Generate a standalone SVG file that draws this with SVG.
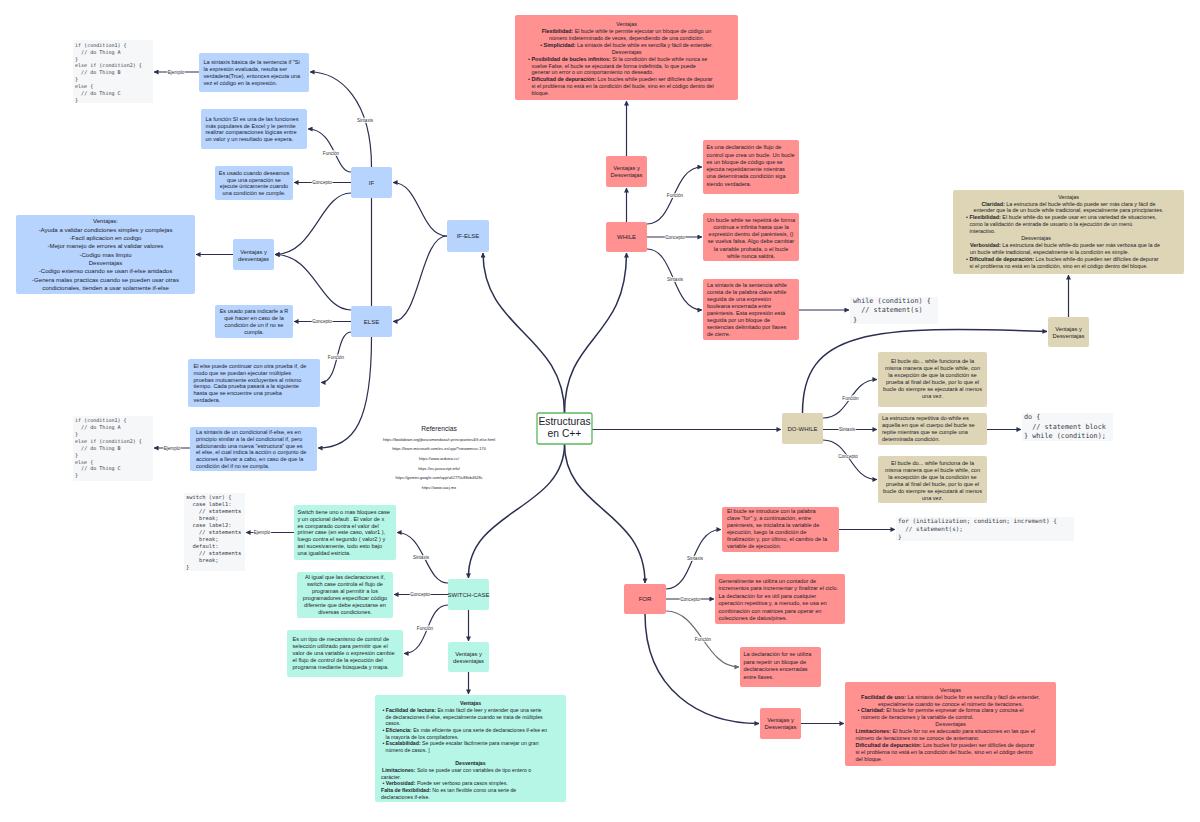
<svg xmlns="http://www.w3.org/2000/svg" width="1200" height="822" viewBox="0 0 1200 822">
<defs>
<marker id="a" viewBox="0 0 6 6" refX="5.5" refY="3" markerWidth="5" markerHeight="5" markerUnits="userSpaceOnUse" orient="auto"><path d="M0,0 L6,3 L0,6 z" fill="#2b3050"/></marker>
<marker id="ag" viewBox="0 0 6 6" refX="5.5" refY="3" markerWidth="5" markerHeight="5" markerUnits="userSpaceOnUse" orient="auto"><path d="M0,0 L6,3 L0,6 z" fill="#6b6b6b"/></marker>
<style>
text{font-family:"Liberation Sans",Arial,sans-serif;fill:#1c1c2c}
.e{fill:none;stroke:#2b3050;stroke-width:1.2;marker-end:url(#a)}
.E{fill:none;stroke:#2b3050;stroke-width:1.5;marker-end:url(#a)}
.eg{fill:none;stroke:#6b6b6b;stroke-width:1.2;marker-end:url(#ag)}
.l{font-size:4.6px;text-anchor:middle;dominant-baseline:central;stroke:#fff;stroke-width:1.4px;paint-order:stroke;fill:#333}
.b{fill:#b7d4ff}
.r{fill:#ff9191}
.m{fill:#b5f6e7}
.y{fill:#ddd5b5}
.k{fill:#f5f7f8}
.n{font-size:6px;text-anchor:middle}
.s{font-size:5.6px}
.mid{text-anchor:middle}
.code{font-family:"DejaVu Sans Mono","Liberation Mono",monospace;fill:#3a3a4a}
.bo{font-weight:bold}
</style>
</defs>
<rect width="1200" height="822" fill="#ffffff"/>

<g id="connectors">
<path class="E" d="M564.5,413 C564.5,335 483,330 483,253"/>
<path class="E" d="M564.5,413 C564.5,335 626.5,340 626.5,253"/>
<path class="e" d="M592,429.5 L781,429.5"/>
<path class="E" d="M564.5,444 C564.5,510 467,510 468.5,578"/>
<path class="E" d="M564.5,444 C564.5,510 645,510 645,583"/>
<path class="e" d="M447,236 C420,236 420,182.5 393,182.5"/>
<path class="e" d="M447,236 C420,236 420,321.5 393,321.5"/>
<path class="e" d="M371.5,167 C371.5,100 340,72 310,72"/>
<path class="e" d="M351,172 C335,172 335,129 308,129"/>
<path class="e" d="M351,182.5 L294,182.5"/>
<path class="e" d="M351,193 C320,193 315,254.5 275,254.5"/>
<path class="e" d="M351,310 C320,310 315,254.5 275,254.5"/>
<path class="e" d="M233,254.5 L196,254.5"/>
<path class="e" d="M351,321.5 L294,321.5"/>
<path class="e" d="M351,332 C335,332 340,382.5 321,382.5"/>
<path class="e" d="M371.5,198 L371.5,337 C371.5,420 355,448 318,448"/>
<path class="e" d="M199,72 L154,72"/>
<path class="e" d="M190,448 L154,448"/>
<path class="e" d="M448,583 C425,583 425,532.5 397,532.5"/>
<path class="e" d="M294,532.5 L246,532.5"/>
<path class="e" d="M448,594.5 L394,594.5"/>
<path class="e" d="M448,605 C425,605 430,653.5 404,653.5"/>
<path class="e" d="M468.5,610 L468.5,641"/>
<path class="e" d="M468.5,672 L468.5,694"/>
<path class="e" d="M626.5,222 L626.5,188"/>
<path class="e" d="M626.5,156 L626.5,101"/>
<path class="e" d="M647,224 C675,224 672,167 702,167"/>
<path class="e" d="M647,237 L702,237"/>
<path class="e" d="M647,249 C675,249 672,310 702,310"/>
<path class="e" d="M799,310 L849,310"/>
<path class="E" d="M802.5,413 C802.5,330 870,325 1047,331.5"/>
<path class="e" d="M1068.5,317 L1068.5,275"/>
<path class="e" d="M823,418 C850,418 850,379.5 877,379.5"/>
<path class="e" d="M823,429.5 L877,429.5"/>
<path class="e" d="M987,429.5 L1021,429.5"/>
<path class="e" d="M823,440 C850,440 850,479.5 877,479.5"/>
<path class="e" d="M666,589 C695,589 690,529.5 721,529.5"/>
<path class="e" d="M839,529.5 L895,529.5"/>
<path class="e" d="M666,599 L714,599"/>
<path class="eg" d="M666,611 C700,611 705,667 739,667"/>
<path class="E" d="M645,614 C645,690 700,723.5 759,723.5"/>
<path class="e" d="M801,723.5 L844,723.5"/>
<text class="l" x="365" y="120">Sintaxis</text>
<text class="l" x="331" y="153">Función</text>
<text class="l" x="322" y="182.5">Concepto</text>
<text class="l" x="322" y="321.5">Concepto</text>
<text class="l" x="336" y="357">Función</text>
<text class="l" x="176" y="72">Ejemplo</text>
<text class="l" x="172" y="448">Ejemplo</text>
<text class="l" x="421" y="557">Sintaxis</text>
<text class="l" x="262" y="532.5">Ejemplo</text>
<text class="l" x="420" y="594.5">Concepto</text>
<text class="l" x="425" y="628">Función</text>
<text class="l" x="675" y="195.5">Función</text>
<text class="l" x="675" y="237">Concepto</text>
<text class="l" x="675" y="279">Sintaxis</text>
<text class="l" x="850.5" y="398">Función</text>
<text class="l" x="847" y="429">Sintaxis</text>
<text class="l" x="848" y="456">Concepto</text>
<text class="l" x="695" y="558">Sintaxis</text>
<text class="l" x="690" y="599">Concepto</text>
<text class="l" x="703" y="639">Función</text>
</g>

<g id="n-central">
<rect x="537" y="413" width="55" height="31" rx="2" fill="#ffffff" stroke="#5cb85c" stroke-width="1.3"/>
<text class="mid" font-size="10.3" fill="#333"><tspan x="564.5" y="425.3">Estructuras</tspan><tspan x="564.5" y="437">en C++</tspan></text>
</g>

<g id="referencias">
<text class="mid" x="439" y="431" font-size="6.7">Referencias</text>
<text class="mid" font-size="3.9"><tspan x="439" y="440.5">https://bookdown.org/jboscomendoza/r-principiantes4/if-else.html</tspan><tspan x="439" y="450.3">https://learn.microsoft.com/es-es/cpp/?view=msvc-170</tspan><tspan x="439" y="459.9">https://www.arduino.cc/</tspan><tspan x="439" y="469.5">https://es.javascript.info/</tspan><tspan x="439" y="479.1">https://gemini.google.com/app/a62770c88eb4628c</tspan><tspan x="439" y="488.7">https://www.uacj.mx</tspan></text>
</g>

<g id="n-ifelse"><rect class="b" x="447" y="220" width="42" height="32" rx="2"/><text class="n" x="468" y="238.1">IF-ELSE</text></g>
<g id="n-if"><rect class="b" x="351" y="167" width="41" height="31" rx="2"/><text class="n" x="371.5" y="184.6">IF</text></g>
<g id="n-else"><rect class="b" x="351" y="306" width="41" height="31" rx="2"/><text class="n" x="371.5" y="323.6">ELSE</text></g>

<g id="n-if-sintaxis"><rect class="b" x="199" y="53" width="110" height="39" rx="2"/>
<text class="s"><tspan x="203.5" y="64.4">La sintaxis básica de la sentencia if "Si</tspan><tspan x="203.5" y="71.1">la expresión evaluada, resulta ser</tspan><tspan x="203.5" y="77.8">verdadera(True), entonces ejecuta una</tspan><tspan x="203.5" y="84.5">vez el código en la expresión.</tspan></text></g>

<g id="n-if-funcion"><rect class="b" x="201" y="109" width="106" height="40" rx="2"/>
<text class="s"><tspan x="205.5" y="120.9">La función SI es una de las funciones</tspan><tspan x="205.5" y="127.6">más populares de Excel y le permite</tspan><tspan x="205.5" y="134.3">realizar comparaciones lógicas entre</tspan><tspan x="205.5" y="141">un valor y un resultado que espera.</tspan></text></g>

<g id="n-if-concepto"><rect class="b" x="215" y="166" width="78" height="34" rx="2"/>
<text class="s mid"><tspan x="254" y="174.9">Es usado cuando deseamos</tspan><tspan x="254" y="181.6">que una operación se</tspan><tspan x="254" y="188.3">ejecute únicamente cuando</tspan><tspan x="254" y="195">una condición se cumple.</tspan></text></g>

<g id="n-if-code"><rect class="k" x="73" y="40" width="80" height="63"/>
<text class="code" font-size="5.05"><tspan x="75" y="46.8">if (condition1) {</tspan><tspan x="81.1" y="53.65">// do Thing A</tspan><tspan x="75" y="60.5">}</tspan><tspan x="75" y="67.35">else if (condition2) {</tspan><tspan x="81.1" y="74.2">// do Thing B</tspan><tspan x="75" y="81.05">}</tspan><tspan x="75" y="87.9">else {</tspan><tspan x="81.1" y="94.75">// do Thing C</tspan><tspan x="75" y="101.6">}</tspan></text></g>

<g id="n-ifelse-ventajas"><rect class="b" x="16" y="215" width="179" height="79" rx="2"/>
<text class="mid" font-size="6.1"><tspan x="105.5" y="223.4">Ventajas:</tspan><tspan x="105.5" y="231.7">-Ayuda a validar condiciones simples y complejas</tspan><tspan x="105.5" y="240">-Facil aplicacion en codigo</tspan><tspan x="105.5" y="248.3">-Mejor manejo de errores al validar valores</tspan><tspan x="105.5" y="256.6">-Codigo mas limpio</tspan><tspan x="105.5" y="264.9">Desventajas</tspan><tspan x="105.5" y="273.2">-Codigo extenso cuando se usan if-else anidados</tspan><tspan x="105.5" y="281.5">-Genera malas practicas cuando se pueden usar otras</tspan><tspan x="105.5" y="289.8">condicionales, tienden a usar solamente if-else</tspan></text></g>

<g id="n-ifelse-vd"><rect class="b" x="233" y="239" width="41" height="31" rx="2"/>
<text class="mid" font-size="5.8"><tspan x="253.5" y="253.5">Ventajas y</tspan><tspan x="253.5" y="260.5">desventajas</tspan></text></g>

<g id="n-else-concepto"><rect class="b" x="215" y="305" width="78" height="33" rx="2"/>
<text class="s mid"><tspan x="254" y="313.4">Es usado para indicarle a R</tspan><tspan x="254" y="320.1">qué hacer en caso de la</tspan><tspan x="254" y="326.8">condición de un if no se</tspan><tspan x="254" y="333.5">cumpla.</tspan></text></g>

<g id="n-else-funcion"><rect class="b" x="188" y="359" width="132" height="48" rx="2"/>
<text class="s"><tspan x="193.5" y="368.2">El else puede continuar con otra prueba if, de</tspan><tspan x="193.5" y="374.9">modo que se puedan ejecutar múltiples</tspan><tspan x="193.5" y="381.6">pruebas mutuamente excluyentes al mismo</tspan><tspan x="193.5" y="388.3">tiempo. Cada prueba pasará a la siguiente</tspan><tspan x="193.5" y="395">hasta que se encuentre una prueba</tspan><tspan x="193.5" y="401.7">verdadera.</tspan></text></g>

<g id="n-elseif-sintaxis"><rect class="b" x="190" y="427" width="127" height="44" rx="2"/>
<text class="s"><tspan x="196" y="434.2">La sintaxis de un condicional if-else, es en</tspan><tspan x="196" y="440.9">principio similar a la del condicional if, pero</tspan><tspan x="196" y="447.6">adicionando una nueva "estructura" que es</tspan><tspan x="196" y="454.3">el else, el cual indica la acción o conjunto de</tspan><tspan x="196" y="461">acciones a llevar a cabo, en caso de que la</tspan><tspan x="196" y="467.7">condición del if no se cumpla.</tspan></text></g>

<g id="n-elseif-code"><rect class="k" x="73" y="416" width="80" height="65"/>
<text class="code" font-size="5.05"><tspan x="75" y="422.4">if (condition1) {</tspan><tspan x="81.1" y="429.25">// do Thing A</tspan><tspan x="75" y="436.1">}</tspan><tspan x="75" y="442.95">else if (condition2) {</tspan><tspan x="81.1" y="449.8">// do Thing B</tspan><tspan x="75" y="456.65">}</tspan><tspan x="75" y="463.5">else {</tspan><tspan x="81.1" y="470.35">// do Thing C</tspan><tspan x="75" y="477.2">}</tspan></text></g>

<g id="n-switch"><rect class="m" x="448" y="579" width="41" height="31" rx="2"/><text class="n" x="468.5" y="596.6" font-size="5.7">SWITCH-CASE</text></g>

<g id="n-switch-sintaxis"><rect class="m" x="294" y="505" width="102" height="55" rx="2"/>
<text class="s"><tspan x="297.5" y="513.6">Switch tiene uno o mas bloques case</tspan><tspan x="297.5" y="520.5">y un opcional default . El valor de x</tspan><tspan x="297.5" y="527.5">es comparado contra el valor del</tspan><tspan x="297.5" y="534.4">primer case (en este caso, valor1 ),</tspan><tspan x="297.5" y="541.3">luego contra el segundo ( valor2 ) y</tspan><tspan x="297.5" y="548.3">así sucesivamente, todo esto bajo</tspan><tspan x="297.5" y="555.2">una igualdad estricta.</tspan></text></g>

<g id="n-switch-code"><rect class="k" x="184" y="493" width="61" height="78"/>
<text class="code" font-size="5.4"><tspan x="186" y="499.1">switch (var) {</tspan><tspan x="192.5" y="506.1">case label1:</tspan><tspan x="199" y="513.1">// statements</tspan><tspan x="199" y="520.1">break;</tspan><tspan x="192.5" y="527.1">case label2:</tspan><tspan x="199" y="534.1">// statements</tspan><tspan x="199" y="541.1">break;</tspan><tspan x="192.5" y="548.1">default:</tspan><tspan x="199" y="555.1">// statements</tspan><tspan x="199" y="562.1">break;</tspan><tspan x="186" y="569.1">}</tspan></text></g>

<g id="n-switch-concepto"><rect class="m" x="297" y="572" width="96" height="46" rx="2"/>
<text class="s mid"><tspan x="345" y="579.2">Al igual que las declaraciones if,</tspan><tspan x="345" y="586.2">switch case controla el flujo de</tspan><tspan x="345" y="593.2">programas al permitir a los</tspan><tspan x="345" y="600.2">programadores especificar código</tspan><tspan x="345" y="607.2">diferente que debe ejecutarse en</tspan><tspan x="345" y="614.2">diversas condiciones.</tspan></text></g>

<g id="n-switch-funcion"><rect class="m" x="287" y="630" width="116" height="47" rx="2"/>
<text class="s"><tspan x="292.5" y="640.9">Es un tipo de mecanismo de control de</tspan><tspan x="292.5" y="647.8">selección utilizado para permitir que el</tspan><tspan x="292.5" y="654.8">valor de una variable o expresión cambie</tspan><tspan x="292.5" y="661.7">el flujo de control de la ejecución del</tspan><tspan x="292.5" y="668.6">programa mediante búsqueda y mapa.</tspan></text></g>

<g id="n-switch-vd"><rect class="m" x="448" y="642" width="41" height="30" rx="2"/>
<text class="mid" font-size="5.8"><tspan x="468.5" y="655.5">Ventajas y</tspan><tspan x="468.5" y="662.5">desventajas</tspan></text></g>

<g id="n-switch-ventajas"><rect class="m" x="375" y="695" width="191" height="107" rx="2"/>
<text font-size="5.2"><tspan class="bo mid" x="470.5" y="705.2">Ventajas</tspan><tspan x="382.5" y="711.9">• <tspan class="bo">Facilidad de lectura:</tspan> Es más fácil de leer y entender que una serie</tspan><tspan x="385.5" y="718.5">de declaraciones if-else, especialmente cuando se trata de múltiples</tspan><tspan x="385.5" y="725.2">casos.</tspan><tspan x="382.5" y="731.9">• <tspan class="bo">Eficiencia:</tspan> Es más eficiente que una serie de declaraciones if-else en</tspan><tspan x="385.5" y="738.6">la mayoría de los compiladores.</tspan><tspan x="382.5" y="745.2">• <tspan class="bo">Escalabilidad:</tspan> Se puede escalar fácilmente para manejar un gran</tspan><tspan x="385.5" y="751.9">número de casos. ]</tspan><tspan class="bo mid" x="470.5" y="765.2">Desventajas</tspan><tspan x="382" y="771.9"><tspan class="bo">Limitaciones:</tspan> Solo se puede usar con variables de tipo entero o</tspan><tspan x="381" y="778.6">carácter.</tspan><tspan x="382.5" y="785.2">• <tspan class="bo">Verbosidad:</tspan> Puede ser verboso para casos simples.</tspan><tspan x="381" y="791.9"><tspan class="bo">Falta de flexibilidad:</tspan> No es tan flexible como una serie de</tspan><tspan x="381" y="798.6">declaraciones if-else.</tspan></text></g>

<g id="n-while"><rect class="r" x="606" y="222" width="41" height="30" rx="2"/><text class="n" x="626.5" y="239.1">WHILE</text></g>

<g id="n-while-vd"><rect class="r" x="606" y="156" width="41" height="31" rx="2"/>
<text class="mid" font-size="5.8"><tspan x="626.5" y="170">Ventajas y</tspan><tspan x="626.5" y="177">Desventajas</tspan></text></g>

<g id="n-while-ventajas"><rect class="r" x="515" y="15" width="223" height="85" rx="2"/>
<text font-size="5.4"><tspan class="mid" x="626.5" y="25.9">Ventajas</tspan><tspan class="mid" x="626.5" y="32.8"><tspan class="bo">Flexibilidad:</tspan> El bucle while te permite ejecutar un bloque de código un</tspan><tspan class="mid" x="626.5" y="39.8">número indeterminado de veces, dependiendo de una condición.</tspan><tspan class="mid" x="626.5" y="46.7">• <tspan class="bo">Simplicidad:</tspan> La sintaxis del bucle while es sencilla y fácil de entender.</tspan><tspan class="mid" x="626.5" y="53.6">Desventajas</tspan><tspan x="528" y="60.6">• <tspan class="bo">Posibilidad de bucles infinitos:</tspan> Si la condición del bucle while nunca se</tspan><tspan x="531.5" y="67.5">vuelve False, el bucle se ejecutará de forma indefinida, lo que puede</tspan><tspan x="531.5" y="74.4">generar un error o un comportamiento no deseado.</tspan><tspan x="528" y="81.3">• <tspan class="bo">Dificultad de depuración:</tspan> Los bucles while pueden ser difíciles de depurar</tspan><tspan x="531.5" y="88.3">si el problema no está en la condición del bucle, sino en el código dentro del</tspan><tspan x="531.5" y="95.2">bloque.</tspan></text></g>

<g id="n-while-funcion"><rect class="r" x="703" y="140" width="96" height="54" rx="2"/>
<text class="s"><tspan x="706.5" y="149.2">Es una declaración de flujo de</tspan><tspan x="706.5" y="156.5">control que crea un bucle. Un bucle</tspan><tspan x="706.5" y="163.8">es un bloque de código que se</tspan><tspan x="706.5" y="171.1">ejecuta repetidamente mientras</tspan><tspan x="706.5" y="178.4">una determinada condición siga</tspan><tspan x="706.5" y="185.7">siendo verdadera.</tspan></text></g>

<g id="n-while-concepto"><rect class="r" x="703" y="213" width="96" height="48" rx="2"/>
<text class="s mid"><tspan x="751" y="222">Un bucle while se repetirá de forma</tspan><tspan x="751" y="229.1">continua e infinita hasta que la</tspan><tspan x="751" y="236.3">expresión dentro del paréntesis, ()</tspan><tspan x="751" y="243.4">se vuelva falsa. Algo debe cambiar</tspan><tspan x="751" y="250.5">la variable probada, o el bucle</tspan><tspan x="751" y="257.7">while nunca saldrá.</tspan></text></g>

<g id="n-while-sintaxis"><rect class="r" x="703" y="279" width="96" height="61" rx="2"/>
<text class="s"><tspan x="707" y="287">La sintaxis de la sentencia while</tspan><tspan x="707" y="294.1">consta de la palabra clave while</tspan><tspan x="707" y="301.1">seguida de una expresión</tspan><tspan x="707" y="308.2">booleana encerrada entre</tspan><tspan x="707" y="315.2">paréntesis. Esta expresión está</tspan><tspan x="707" y="322.3">seguida por un bloque de</tspan><tspan x="707" y="329.3">sentencias delimitado por llaves</tspan><tspan x="707" y="336.4">de cierre.</tspan></text></g>

<g id="n-while-code"><rect class="k" x="850" y="297" width="88" height="27"/>
<text class="code" font-size="6.8"><tspan x="853" y="303">while (condition) {</tspan><tspan x="861.2" y="312.4">// statement(s)</tspan><tspan x="853" y="321.7">}</tspan></text></g>

<g id="n-dowhile"><rect class="y" x="782" y="413" width="41" height="31" rx="2"/><text class="n" x="802.5" y="430.6">DO-WHILE</text></g>

<g id="n-dowhile-vd"><rect class="y" x="1048" y="317" width="41" height="30" rx="2"/>
<text class="mid" font-size="5.8"><tspan x="1068.5" y="330.5">Ventajas y</tspan><tspan x="1068.5" y="337.5">Desventajas</tspan></text></g>

<g id="n-dowhile-ventajas"><rect class="y" x="953" y="190" width="231" height="84" rx="2"/>
<text font-size="5.4"><tspan class="mid" x="1068.5" y="198.6">Ventajas</tspan><tspan class="mid" x="1068.5" y="205.5"><tspan class="bo">Claridad:</tspan> La estructura del bucle while-do puede ser más clara y fácil de</tspan><tspan class="mid" x="1068.5" y="212.4">entender que la de un bucle while tradicional, especialmente para principiantes.</tspan><tspan x="966" y="219.3">• <tspan class="bo">Flexibilidad:</tspan> El bucle while-do se puede usar en una variedad de situaciones,</tspan><tspan x="969.5" y="226.2">como la validación de entrada de usuario o la ejecución de un menú</tspan><tspan x="969.5" y="233.1">interactivo.</tspan><tspan class="mid" x="1036" y="240">Desventajas</tspan><tspan x="970" y="246.9"><tspan class="bo">Verbosidad:</tspan> La estructura del bucle while-do puede ser más verbosa que la de</tspan><tspan x="970" y="253.8">un bucle while tradicional, especialmente si la condición es simple.</tspan><tspan x="966" y="260.7">• <tspan class="bo">Dificultad de depuración:</tspan> Los bucles while-do pueden ser difíciles de depurar</tspan><tspan x="969.5" y="267.6">si el problema no está en la condición, sino en el código dentro del bloque.</tspan></text></g>

<g id="n-dowhile-funcion"><rect class="y" x="878" y="352" width="109" height="55" rx="2"/>
<text class="s mid"><tspan x="932.5" y="362.6">El bucle do... while funciona de la</tspan><tspan x="932.5" y="369.6">misma manera que el bucle while, con</tspan><tspan x="932.5" y="376.6">la excepción de que la condición se</tspan><tspan x="932.5" y="383.6">prueba al final del bucle, por lo que el</tspan><tspan x="932.5" y="390.6">bucle do siempre se ejecutará al menos</tspan><tspan x="932.5" y="397.6">una vez.</tspan></text></g>

<g id="n-dowhile-sintaxis"><rect class="y" x="878" y="413" width="109" height="32" rx="2"/>
<text class="s"><tspan x="882" y="420.2">La estructura repetitiva do-while es</tspan><tspan x="882" y="427.2">aquella en que el cuerpo del bucle se</tspan><tspan x="882" y="434.2">repite mientras que se cumple una</tspan><tspan x="882" y="441.2">determinada condición.</tspan></text></g>

<g id="n-dowhile-concepto"><rect class="y" x="878" y="456" width="109" height="47" rx="2"/>
<text class="s mid"><tspan x="932.5" y="464.6">El bucle do... while funciona de la</tspan><tspan x="932.5" y="471.6">misma manera que el bucle while, con</tspan><tspan x="932.5" y="478.6">la excepción de que la condición se</tspan><tspan x="932.5" y="485.6">prueba al final del bucle, por lo que el</tspan><tspan x="932.5" y="492.6">bucle do siempre se ejecutará al menos</tspan><tspan x="932.5" y="499.6">una vez.</tspan></text></g>

<g id="n-dowhile-code"><rect class="k" x="1022" y="413" width="91" height="28"/>
<text class="code" font-size="6.8"><tspan x="1024" y="419">do {</tspan><tspan x="1032.2" y="429">// statement block</tspan><tspan x="1024" y="438.4">} while (condition);</tspan></text></g>

<g id="n-for"><rect class="r" x="624" y="584" width="42" height="30" rx="2"/><text class="n" x="645" y="601.1">FOR</text></g>

<g id="n-for-sintaxis"><rect class="r" x="722" y="507" width="117" height="45" rx="2"/>
<text class="s"><tspan x="727" y="512.6">El bucle se introduce con la palabra</tspan><tspan x="727" y="519.6">clave "for" y, a continuación, entre</tspan><tspan x="727" y="526.6">paréntesis, se inicializa la variable de</tspan><tspan x="727" y="533.6">ejecución, luego la condición de</tspan><tspan x="727" y="540.6">finalización y, por último, el cambio de la</tspan><tspan x="727" y="547.6">variable de ejecución.</tspan></text></g>

<g id="n-for-code"><rect class="k" x="896" y="517" width="178" height="24"/>
<text class="code" font-size="6"><tspan x="898" y="522.8">for (initialization; condition; increment) {</tspan><tspan x="905.2" y="531.1">// statement(s);</tspan><tspan x="898" y="539.4">}</tspan></text></g>

<g id="n-for-concepto"><rect class="r" x="715" y="574" width="130" height="50" rx="2"/>
<text class="s"><tspan x="718.5" y="582.9">Generalmente se utiliza un contador de</tspan><tspan x="718.5" y="590.4">incrementos para incrementar y finalizar el ciclo.</tspan><tspan x="718.5" y="597.8">La declaración for es útil para cualquier</tspan><tspan x="718.5" y="605.3">operación repetitiva y, a menudo, se usa en</tspan><tspan x="718.5" y="612.7">combinación con matrices para operar en</tspan><tspan x="718.5" y="620.2">colecciones de datos/pines.</tspan></text></g>

<g id="n-for-funcion"><rect class="r" x="740" y="647" width="81" height="40" rx="2"/>
<text class="s"><tspan x="743.5" y="656.2">La declaración for se utiliza</tspan><tspan x="743.5" y="663.6">para repetir un bloque de</tspan><tspan x="743.5" y="671.1">declaraciones encerradas</tspan><tspan x="743.5" y="678.5">entre llaves.</tspan></text></g>

<g id="n-for-vd"><rect class="r" x="760" y="708" width="41" height="31" rx="2"/>
<text class="mid" font-size="5.8"><tspan x="780.5" y="722">Ventajas y</tspan><tspan x="780.5" y="729">Desventajas</tspan></text></g>

<g id="n-for-ventajas"><rect class="r" x="845" y="682" width="211" height="84" rx="2"/>
<text font-size="5.5"><tspan class="mid" x="950.5" y="691.6">Ventajas</tspan><tspan class="mid" x="950.5" y="698.5"><tspan class="bo">Facilidad de uso:</tspan> La sintaxis del bucle for es sencilla y fácil de entender,</tspan><tspan class="mid" x="950.5" y="705.5">especialmente cuando se conoce el número de iteraciones.</tspan><tspan x="857.5" y="712.4">• <tspan class="bo">Claridad:</tspan> El bucle for permite expresar de forma clara y concisa el</tspan><tspan x="861" y="719.3">número de iteraciones y la variable de control.</tspan><tspan class="mid" x="950.5" y="726.3">Desventajas</tspan><tspan x="855.5" y="733.2"><tspan class="bo">Limitaciones:</tspan> El bucle for no es adecuado para situaciones en las que el</tspan><tspan x="855.5" y="740.1">número de iteraciones no se conoce de antemano.</tspan><tspan x="855.5" y="747"><tspan class="bo">Dificultad de depuración:</tspan> Los bucles for pueden ser difíciles de depurar</tspan><tspan x="855.5" y="754">si el problema no está en la condición del bucle, sino en el código dentro</tspan><tspan x="855.5" y="760.9">del bloque.</tspan></text></g>
</svg>
